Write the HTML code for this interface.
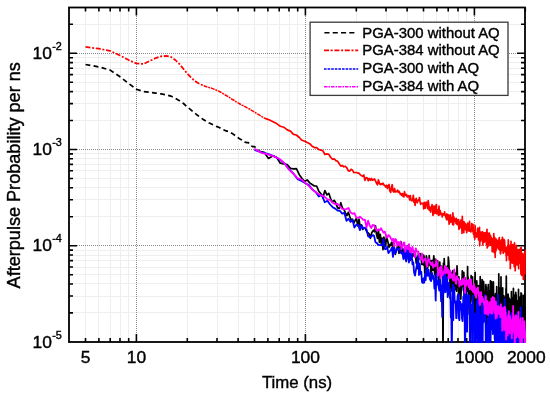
<!DOCTYPE html><html><head><meta charset="utf-8"><title>chart</title><style>html,body{margin:0;padding:0;background:#fff}body{width:550px;height:399px;position:relative;overflow:hidden}</style></head><body><svg width="550" height="399" viewBox="0 0 550 399" style="position:absolute;left:0;top:0">
<defs><clipPath id="c"><rect x="68" y="6.5" width="458" height="336.5"/></clipPath></defs>
<path d="M85.5,7.5V342.0M98.5,7.5V342.0M110.5,7.5V342.0M120.5,7.5V342.0M128.5,7.5V342.0M187.5,7.5V342.0M217.5,7.5V342.0M238.5,7.5V342.0M254.5,7.5V342.0M267.5,7.5V342.0M279.5,7.5V342.0M289.5,7.5V342.0M297.5,7.5V342.0M356.5,7.5V342.0M386.5,7.5V342.0M407.5,7.5V342.0M423.5,7.5V342.0M436.5,7.5V342.0M448.5,7.5V342.0M458.5,7.5V342.0M466.5,7.5V342.0M69.0,312.5H525.0M69.0,296.5H525.0M69.0,283.5H525.0M69.0,274.5H525.0M69.0,267.5H525.0M69.0,260.5H525.0M69.0,255.5H525.0M69.0,250.5H525.0M69.0,216.5H525.0M69.0,199.5H525.0M69.0,187.5H525.0M69.0,178.5H525.0M69.0,170.5H525.0M69.0,164.5H525.0M69.0,158.5H525.0M69.0,153.5H525.0M69.0,120.5H525.0M69.0,103.5H525.0M69.0,91.5H525.0M69.0,82.5H525.0M69.0,74.5H525.0M69.0,68.5H525.0M69.0,62.5H525.0M69.0,57.5H525.0M69.0,24.5H525.0" stroke="#eeeeee" stroke-width="1" fill="none"/>
<path d="M136.5,8V342.0M305.5,8V342.0M474.5,8V342.0M69.0,245.5H525.0M69.0,149.5H525.0M69.0,53.5H525.0" stroke="#8a8a8a" stroke-width="1" stroke-dasharray="1,1" fill="none"/>
<rect x="69.0" y="7.5" width="456.0" height="334.5" fill="none" stroke="#000" stroke-width="1.8"/>
<path d="M85.5,342.0v-4M85.5,7.5v4M98.9,342.0v-4M98.9,7.5v4M110.2,342.0v-4M110.2,7.5v4M120.0,342.0v-4M120.0,7.5v4M128.7,342.0v-4M128.7,7.5v4M136.4,342.0v-8M136.4,7.5v8M187.3,342.0v-4M187.3,7.5v4M217.0,342.0v-4M217.0,7.5v4M238.1,342.0v-4M238.1,7.5v4M254.5,342.0v-4M254.5,7.5v4M267.9,342.0v-4M267.9,7.5v4M279.2,342.0v-4M279.2,7.5v4M289.0,342.0v-4M289.0,7.5v4M297.7,342.0v-4M297.7,7.5v4M305.4,342.0v-8M305.4,7.5v8M356.3,342.0v-4M356.3,7.5v4M386.0,342.0v-4M386.0,7.5v4M407.1,342.0v-4M407.1,7.5v4M423.5,342.0v-4M423.5,7.5v4M436.9,342.0v-4M436.9,7.5v4M448.2,342.0v-4M448.2,7.5v4M458.0,342.0v-4M458.0,7.5v4M466.7,342.0v-4M466.7,7.5v4M474.4,342.0v-8M474.4,7.5v8M525.3,342.0v-4M525.3,7.5v4M69.0,312.9h4M525.0,312.9h-4M69.0,296.0h4M525.0,296.0h-4M69.0,284.0h4M525.0,284.0h-4M69.0,274.7h4M525.0,274.7h-4M69.0,267.0h4M525.0,267.0h-4M69.0,260.6h4M525.0,260.6h-4M69.0,255.0h4M525.0,255.0h-4M69.0,250.1h4M525.0,250.1h-4M69.0,245.7h8M525.0,245.7h-8M69.0,216.7h4M525.0,216.7h-4M69.0,199.8h4M525.0,199.8h-4M69.0,187.8h4M525.0,187.8h-4M69.0,178.5h4M525.0,178.5h-4M69.0,170.8h4M525.0,170.8h-4M69.0,164.4h4M525.0,164.4h-4M69.0,158.8h4M525.0,158.8h-4M69.0,153.9h4M525.0,153.9h-4M69.0,149.5h8M525.0,149.5h-8M69.0,120.5h4M525.0,120.5h-4M69.0,103.6h4M525.0,103.6h-4M69.0,91.6h4M525.0,91.6h-4M69.0,82.3h4M525.0,82.3h-4M69.0,74.6h4M525.0,74.6h-4M69.0,68.2h4M525.0,68.2h-4M69.0,62.6h4M525.0,62.6h-4M69.0,57.7h4M525.0,57.7h-4M69.0,53.3h8M525.0,53.3h-8M69.0,24.3h4M525.0,24.3h-4" stroke="#000" stroke-width="1.6" fill="none"/>
<g clip-path="url(#c)" fill="none" stroke-linejoin="round">
<path d="M85.5,64.5 L98.9,66.9 L110.2,70.1 L120.0,76.8 L128.7,83.5 L136.4,89.2 L143.4,91.5 L149.8,92.3 L155.7,93.1 L161.1,93.9 L166.2,94.8 L170.9,96.1 L175.3,98.2 L179.5,100.7 L183.5,103.5 L187.3,106.9 L190.9,109.9 L194.3,112.7 L197.5,115.3 L200.7,117.7 L203.7,119.7 L206.5,121.5 L209.3,123.0 L212.0,124.3 L214.5,125.6 L217.0,126.6 L219.4,127.5 L221.8,129.0 L224.0,129.9 L226.2,130.9 L228.3,131.5 L230.4,132.6 L232.4,133.6 L234.4,135.0 L236.3,136.4 L238.1,137.7 L240.0,139.1 L241.7,139.9 L243.5,141.4 L245.1,142.1 L246.8,142.6 L248.4,142.7 L250.0,144.8 L251.5,146.0 L253.0,146.7 L254.5,146.6 L259.5,151.4" stroke="#000" stroke-width="1.7" stroke-dasharray="4.9,3.3"/>
<path d="M259.5,151.4 L264.1,152.3 L268.5,158.4 L272.6,155.9 L276.6,157.3 L280.3,163.2 L283.8,163.8 L287.2,164.6 L290.4,168.4 L293.5,168.8 L296.4,168.6 L299.3,174.7 L302.0,178.5 L304.7,181.3 L307.2,179.9 L309.7,182.9 L312.1,184.5 L314.4,186.0 L316.6,186.0 L318.8,191.2 L320.9,193.7 L322.9,197.6 L324.9,190.6 L326.9,194.9 L328.8,193.3 L330.6,198.6 L332.4,202.0 L334.2,200.3 L335.9,203.1 L337.6,207.9 L339.2,208.4 L340.8,202.7 L342.4,207.9 L343.9,209.3 L345.4,212.8 L346.9,215.6 L348.3,212.2 L349.8,216.6 L351.1,220.0 L352.5,219.2 L353.8,223.0 L355.2,220.3 L356.5,218.3 L357.7,225.9 L359.0,219.1 L360.2,227.1 L361.4,225.0 L362.6,229.5 L363.8,228.0 L364.9,227.7 L366.1,230.3 L367.2,232.2 L368.3,232.9 L369.3,234.2 L370.4,238.3 L371.5,233.4 L372.5,231.4 L373.5,230.2 L374.5,231.8 L375.5,225.9 L376.5,234.5 L377.5,238.4 L378.4,229.8 L379.4,242.4 L380.3,234.4 L381.2,243.3 L382.1,238.1 L383.0,249.6 L383.9,237.0 L384.8,241.9 L385.7,246.2 L386.5,235.6 L387.4,239.6 L388.2,243.2 L389.0,247.3 L389.8,244.6 L390.7,245.7 L391.5,242.3 L392.2,242.5 L393.0,249.5 L393.8,249.4 L394.6,249.8 L395.3,254.3 L396.1,250.9 L396.8,248.9 L397.6,245.8 L398.3,243.6 L399.0,253.5 L399.7,247.4 L400.4,252.3 L401.1,241.8 L401.8,250.9 L402.5,248.6 L403.2,255.7 L403.9,255.3 L404.5,250.6 L405.2,253.6 L405.9,250.2 L406.5,260.2 L407.1,249.2 L407.8,256.9 L408.4,245.1 L409.0,254.2 L409.7,248.0 L410.3,260.5 L410.9,251.3 L411.5,258.1 L412.1,256.2 L412.7,253.9 L413.3,255.9 L413.9,253.3 L414.5,251.3 L415.1,252.0 L415.6,255.9 L416.2,263.1 L416.8,260.2 L417.3,257.3 L417.9,268.8 L418.4,253.4 L419.0,258.6 L419.5,258.9 L420.1,253.5 L420.6,255.1 L421.1,257.5 L421.7,264.5 L422.2,257.7 L422.7,257.9 L423.2,264.9 L423.7,255.1 L424.3,257.9 L424.8,273.1 L425.3,260.5 L425.8,269.0 L426.3,255.9 L426.8,257.8 L427.2,269.0 L427.7,267.9 L428.2,262.3 L428.7,264.6 L429.2,255.6 L429.6,259.7 L430.1,265.7 L430.6,261.1 L431.1,278.7 L431.5,263.1 L432.0,260.3 L432.4,266.6 L432.9,270.3 L433.3,262.7 L433.8,255.8 L434.2,265.3 L434.7,274.4 L435.1,259.0 L435.5,281.2 L436.0,264.6 L436.4,271.8 L436.8,262.6 L437.3,274.3 L437.7,260.9 L438.1,267.0 L438.5,282.3 L439.0,285.0 L439.4,271.8 L439.8,262.0 L440.2,269.3 L440.6,269.9 L441.0,272.2 L441.4,266.0 L441.8,268.5 L442.2,269.3 L442.6,278.9 L443.0,362.0 L443.4,263.2 L443.8,282.4 L444.2,258.5 L444.6,267.6 L445.0,276.3 L445.3,289.5 L445.7,268.5 L446.1,269.3 L446.5,278.0 L446.8,289.4 L447.2,266.2 L447.6,278.6 L448.0,277.9 L448.3,257.1 L448.7,260.9 L449.1,268.1 L449.4,278.6 L449.8,270.4 L450.1,298.2 L450.5,274.7 L450.8,282.1 L451.2,287.4 L451.6,290.9 L451.9,272.3 L452.3,275.7 L452.6,275.4 L452.9,270.5 L453.3,284.5 L453.6,288.7 L454.0,295.2 L454.3,280.4 L454.6,272.0 L455.0,279.2 L455.3,273.2 L455.6,289.6 L456.0,282.7 L456.3,285.8 L456.6,291.2 L457.0,265.8 L457.3,272.7 L457.6,286.8 L457.9,287.1 L458.3,280.6 L458.6,295.2 L458.9,276.9 L459.2,294.0 L459.5,284.4 L459.8,291.4 L460.1,285.9 L460.5,295.7 L460.8,299.1 L461.1,291.9 L461.4,289.0 L461.7,285.3 L462.0,282.1 L462.3,270.9 L462.6,276.3 L462.9,285.8 L463.2,277.4 L463.5,290.8 L463.8,272.3 L464.1,279.4 L464.4,299.8 L464.7,278.1 L465.0,277.8 L465.3,325.2 L465.6,293.3 L465.8,290.4 L466.1,310.6 L466.4,298.0 L466.7,296.7 L467.0,281.7 L467.3,283.8 L467.6,266.6 L467.8,291.1 L468.1,277.1 L468.4,286.6 L468.7,285.0 L469.0,301.6 L469.2,314.1 L469.5,296.8 L469.8,281.2 L470.1,362.0 L470.3,282.9 L470.6,284.1 L470.9,298.9 L471.1,275.7 L471.4,277.3 L471.7,295.6 L471.9,290.3 L472.2,302.1 L472.5,276.9 L472.7,286.1 L473.0,291.5 L473.3,286.4 L473.5,286.2 L473.8,295.6 L474.0,307.3 L474.3,308.2 L474.5,316.6 L474.8,286.7 L475.1,272.4 L475.3,316.4 L475.6,290.4 L475.8,287.7 L476.1,304.7 L476.3,290.0 L476.6,306.8 L476.8,280.9 L477.1,299.9 L477.3,291.7 L477.6,285.9 L477.8,298.1 L478.1,320.6 L478.3,299.7 L478.5,285.6 L478.8,294.5 L479.0,291.1 L479.3,308.3 L479.5,292.3 L479.7,286.4 L480.0,293.7 L480.2,276.6 L480.5,296.8 L480.7,308.5 L480.9,319.2 L481.2,283.1 L481.4,295.4 L481.6,284.5 L481.9,290.0 L482.1,279.5 L482.3,282.6 L482.6,300.0 L482.8,292.3 L483.0,284.4 L483.2,313.4 L483.5,281.4 L483.7,283.5 L483.9,285.7 L484.1,298.5 L484.4,292.7 L484.6,312.2 L484.8,295.6 L485.0,304.1 L485.3,295.5 L485.5,303.0 L485.7,293.4 L485.9,284.6 L486.1,316.7 L486.4,287.1 L486.6,332.9 L486.8,338.3 L487.0,298.8 L487.2,297.3 L487.4,292.4 L487.7,324.9 L487.9,298.4 L488.1,296.2 L488.3,284.7 L488.5,299.2 L488.7,292.0 L488.9,312.3 L489.1,300.6 L489.4,304.2 L489.6,290.5 L489.8,313.0 L490.0,310.5 L490.2,292.0 L490.4,280.9 L490.6,294.3 L490.8,295.3 L491.0,303.6 L491.2,287.3 L491.4,292.9 L491.6,281.7 L491.8,295.4 L492.0,313.6 L492.2,307.5 L492.4,314.5 L492.6,319.7 L492.8,286.2 L493.0,290.7 L493.2,319.9 L493.4,281.9 L493.6,297.1 L493.8,314.8 L494.0,295.6 L494.2,301.3 L494.4,311.9 L494.6,339.0 L494.8,300.2 L495.0,297.1 L495.2,362.0 L495.4,294.2 L495.6,293.6 L495.8,307.7 L496.0,299.7 L496.2,305.1 L496.3,314.1 L496.5,306.4 L496.7,286.7 L496.9,327.2 L497.1,298.6 L497.3,299.4 L497.5,312.5 L497.7,308.2 L497.9,326.6 L498.0,315.3 L498.2,302.0 L498.4,298.1 L498.6,316.5 L498.8,273.9 L499.0,311.0 L499.1,300.9 L499.3,305.9 L499.5,308.5 L499.7,288.2 L499.9,310.0 L500.1,288.0 L500.2,289.9 L500.4,320.5 L500.6,291.1 L500.8,313.3 L501.0,276.8 L501.1,309.2 L501.3,319.0 L501.5,344.9 L501.7,326.9 L501.8,312.7 L502.0,320.6 L502.2,325.8 L502.4,315.0 L502.6,307.2 L502.7,287.9 L502.9,339.2 L503.1,312.9 L503.2,320.5 L503.4,334.0 L503.6,327.6 L503.8,319.8 L503.9,295.9 L504.1,307.7 L504.3,313.3 L504.5,297.3 L504.6,301.4 L504.8,308.5 L505.0,300.2 L505.1,319.2 L505.3,297.5 L505.5,299.4 L505.6,312.0 L505.8,328.1 L506.0,288.4 L506.1,304.6 L506.3,276.2 L506.5,316.6 L506.6,295.4 L506.8,313.0 L507.0,302.8 L507.1,295.8 L507.3,319.9 L507.5,308.0 L507.6,304.4 L507.8,305.1 L507.9,298.9 L508.1,294.1 L508.3,296.3 L508.4,303.3 L508.6,312.5 L508.8,328.1 L508.9,319.6 L509.1,315.8 L509.2,298.4 L509.4,313.2 L509.6,331.5 L509.7,299.3 L509.9,321.6 L510.0,320.9 L510.2,311.3 L510.3,301.5 L510.5,362.0 L510.7,329.2 L510.8,305.6 L511.0,314.0 L511.1,323.6 L511.3,317.3 L511.4,291.7 L511.6,315.9 L511.8,299.1 L511.9,298.2 L512.1,316.1 L512.2,302.6 L512.4,316.3 L512.5,319.3 L512.7,330.8 L512.8,297.6 L513.0,315.7 L513.1,318.6 L513.3,331.3 L513.4,288.3 L513.6,299.5 L513.7,311.6 L513.9,321.8 L514.0,343.8 L514.2,305.5 L514.3,305.6 L514.5,340.2 L514.6,295.2 L514.8,299.6 L514.9,328.3 L515.1,319.7 L515.2,317.4 L515.4,307.9 L515.5,312.7 L515.7,349.4 L515.8,292.3 L516.0,306.0 L516.1,294.6 L516.2,294.8 L516.4,314.2 L516.5,305.9 L516.7,300.8 L516.8,300.5 L517.0,313.7 L517.1,322.2 L517.3,310.7 L517.4,326.2 L517.5,321.2 L517.7,362.0 L517.8,310.2 L518.0,332.0 L518.1,321.5 L518.3,312.6 L518.4,307.1 L518.5,289.3 L518.7,308.8 L518.8,344.1 L519.0,310.0 L519.1,322.9 L519.2,306.3 L519.4,324.9 L519.5,325.5 L519.7,321.5 L519.8,362.0 L519.9,362.0 L520.1,325.0 L520.2,312.9 L520.3,296.9 L520.5,317.8 L520.6,319.3 L520.8,304.5 L520.9,305.1 L521.0,292.9 L521.2,304.6 L521.3,313.5 L521.4,295.8 L521.6,293.8 L521.7,362.0 L521.8,311.0 L522.0,358.0 L522.1,320.0 L522.2,331.4 L522.4,317.4 L522.5,322.5 L522.6,316.7 L522.8,315.6 L522.9,306.6 L523.0,310.4 L523.2,324.6 L523.3,343.8 L523.4,297.6 L523.6,295.7 L523.7,322.6 L523.8,306.0 L524.0,353.3 L524.1,355.0 L524.2,362.0 L524.4,295.4 L524.5,337.3 L524.6,331.7 L524.7,294.2 L524.9,362.0 L525.0,305.4 L525.1,307.6 L525.3,318.7" stroke="#000" stroke-width="1.7"/>
<path d="M85.5,46.9 L98.9,48.7 L110.2,50.9 L120.0,55.4 L128.7,60.1 L136.4,63.5 L143.4,64.0 L149.8,61.0 L155.7,58.1 L161.1,56.3 L166.2,55.8 L170.9,56.9 L175.3,60.0 L179.5,64.1 L183.5,69.0 L187.3,73.6 L190.9,77.3 L194.3,80.5 L197.5,82.7 L200.7,84.3 L203.7,85.7" stroke="#f00" stroke-width="1.7" stroke-dasharray="5,1.7,2,1.7"/>
<path d="M203.7,85.7 L206.5,86.8 L209.3,87.6 L212.0,88.4 L214.5,89.4 L217.0,90.4 L219.4,91.5 L221.8,92.8 L224.0,94.2 L226.2,95.5 L228.3,96.7 L230.4,98.2 L232.4,99.5 L234.4,100.5 L236.3,101.8 L238.1,102.9 L240.0,104.0 L241.7,105.1 L243.5,105.7 L245.1,106.6 L246.8,107.7 L248.4,108.5 L250.0,109.2 L251.5,110.4 L253.0,111.2 L254.5,112.1 L259.5,115.2 L264.1,118.0" stroke="#f00" stroke-width="1.5" stroke-dasharray="4,0.8,2,0.8"/>
<path d="M264.1,118.0 L268.5,119.6 L272.6,121.5 L276.6,123.6 L280.3,126.2 L283.8,127.2 L287.2,129.9 L290.4,131.1 L293.5,134.4 L296.4,135.0 L299.3,137.5 L302.0,140.3 L304.7,141.2 L307.2,142.5 L309.7,143.7 L312.1,146.2 L314.4,147.6 L316.6,147.7 L318.8,149.5 L320.9,150.1 L322.9,150.8 L324.9,154.5 L326.9,153.9 L328.8,154.3 L330.6,157.2 L332.4,159.2 L334.2,158.8 L335.9,160.6 L337.6,161.2 L339.2,163.7 L340.8,166.1 L342.4,165.5 L343.9,166.8 L345.4,166.3 L346.9,167.8 L348.3,170.9 L349.8,171.1 L351.1,169.3 L352.5,170.2 L353.8,172.6 L355.2,172.5 L356.5,172.5 L357.7,173.1 L359.0,173.2 L360.2,174.6 L361.4,175.6 L362.6,176.4 L363.8,175.0 L364.9,180.4 L366.1,177.7 L367.2,177.9 L368.3,180.6 L369.3,178.4 L370.4,180.3 L371.5,178.4 L372.5,180.3 L373.5,179.5 L374.5,179.0 L375.5,180.8 L376.5,183.2 L377.5,184.8 L378.4,179.8 L379.4,183.2 L380.3,184.6 L381.2,183.6 L382.1,184.5 L383.0,183.1 L383.9,184.9 L384.8,185.4 L385.7,187.1 L386.5,185.3 L387.4,188.5 L388.2,185.7 L389.0,184.5 L389.8,190.6 L390.7,192.4 L391.5,187.2 L392.2,184.7 L393.0,191.1 L393.8,192.0 L394.6,188.7 L395.3,191.9 L396.1,191.5 L396.8,191.6 L397.6,190.1 L398.3,192.4 L399.0,191.3 L399.7,192.6 L400.4,194.4 L401.1,193.6 L401.8,195.4 L402.5,193.6 L403.2,196.5 L403.9,196.8 L404.5,191.6 L405.2,195.1 L405.9,195.4 L406.5,194.5 L407.1,196.9 L407.8,196.8 L408.4,195.7 L409.0,196.3 L409.7,200.0 L410.3,195.7 L410.9,199.3 L411.5,200.7 L412.1,200.7 L412.7,199.7 L413.3,195.4 L413.9,202.3 L414.5,199.3 L415.1,205.5 L415.6,200.3 L416.2,198.4 L416.8,201.4 L417.3,202.7 L417.9,200.8 L418.4,199.9 L419.0,200.3 L419.5,197.5 L420.1,201.9 L420.6,204.3 L421.1,203.3 L421.7,203.4 L422.2,203.2 L422.7,203.8 L423.2,203.5 L423.7,208.9 L424.3,202.3 L424.8,206.3 L425.3,208.2 L425.8,203.5 L426.3,202.0 L426.8,204.3 L427.2,205.4 L427.7,208.7 L428.2,200.7 L428.7,204.2 L429.2,210.1 L429.6,209.2 L430.1,207.0 L430.6,212.1 L431.1,207.2 L431.5,209.2 L432.0,204.7 L432.4,205.6 L432.9,215.4 L433.3,208.6 L433.8,214.0 L434.2,206.0 L434.7,208.9 L435.1,208.0 L435.5,213.1 L436.0,204.9 L436.4,204.6 L436.8,213.8 L437.3,209.5 L437.7,212.9 L438.1,211.1 L438.5,215.3 L439.0,206.1 L439.4,214.8 L439.8,212.8 L440.2,210.5 L440.6,214.3 L441.0,213.2 L441.4,214.5 L441.8,213.3 L442.2,217.0 L442.6,214.7 L443.0,214.1 L443.4,214.8 L443.8,213.7 L444.2,215.0 L444.6,211.9 L445.0,215.5 L445.3,215.1 L445.7,217.1 L446.1,216.8 L446.5,219.7 L446.8,213.8 L447.2,219.7 L447.6,218.4 L448.0,214.9 L448.3,214.9 L448.7,217.8 L449.1,224.1 L449.4,215.4 L449.8,216.2 L450.1,222.4 L450.5,214.9 L450.8,220.1 L451.2,221.9 L451.6,217.7 L451.9,218.8 L452.3,217.7 L452.6,224.7 L452.9,212.9 L453.3,221.2 L453.6,225.0 L454.0,217.2 L454.3,220.8 L454.6,218.6 L455.0,221.2 L455.3,220.3 L455.6,219.4 L456.0,223.3 L456.3,218.3 L456.6,222.6 L457.0,224.4 L457.3,221.0 L457.6,219.8 L457.9,222.5 L458.3,225.1 L458.6,219.7 L458.9,229.3 L459.2,226.4 L459.5,222.4 L459.8,228.2 L460.1,222.8 L460.5,223.3 L460.8,220.0 L461.1,227.1 L461.4,226.1 L461.7,222.5 L462.0,233.4 L462.3,216.4 L462.6,227.1 L462.9,227.4 L463.2,221.4 L463.5,225.0 L463.8,232.6 L464.1,222.7 L464.4,222.1 L464.7,227.3 L465.0,226.8 L465.3,223.9 L465.6,229.8 L465.8,224.4 L466.1,225.5 L466.4,229.3 L466.7,232.6 L467.0,227.7 L467.3,230.6 L467.6,223.2 L467.8,226.7 L468.1,224.3 L468.4,227.0 L468.7,226.7 L469.0,231.2 L469.2,225.4 L469.5,221.4 L469.8,229.7 L470.1,231.1 L470.3,229.3 L470.6,230.9 L470.9,232.0 L471.1,228.5 L471.4,230.5 L471.7,223.7 L471.9,229.6 L472.2,228.4 L472.5,226.0 L472.7,231.3 L473.0,224.4 L473.3,233.1 L473.5,234.1 L473.8,232.2 L474.0,231.3 L474.3,237.5 L474.5,231.2 L474.8,239.2 L475.1,225.7 L475.3,231.9 L475.6,234.6 L475.8,236.0 L476.1,233.7 L476.3,233.1 L476.6,237.2 L476.8,236.7 L477.1,233.4 L477.3,235.1 L477.6,228.9 L477.8,228.2 L478.1,233.1 L478.3,231.2 L478.5,240.0 L478.8,230.8 L479.0,233.9 L479.3,231.7 L479.5,227.3 L479.7,245.7 L480.0,233.2 L480.2,239.9 L480.5,232.0 L480.7,241.3 L480.9,237.3 L481.2,234.1 L481.4,232.4 L481.6,235.0 L481.9,239.4 L482.1,238.3 L482.3,231.8 L482.6,235.9 L482.8,244.9 L483.0,232.4 L483.2,234.4 L483.5,232.5 L483.7,238.3 L483.9,233.0 L484.1,242.3 L484.4,234.4 L484.6,239.6 L484.8,234.2 L485.0,232.9 L485.3,241.3 L485.5,238.0 L485.7,237.7 L485.9,232.6 L486.1,234.8 L486.4,244.7 L486.6,236.2 L486.8,235.0 L487.0,229.3 L487.2,248.0 L487.4,241.7 L487.7,232.9 L487.9,246.5 L488.1,245.8 L488.3,237.0 L488.5,234.8 L488.7,243.2 L488.9,237.2 L489.1,239.4 L489.4,233.1 L489.6,240.3 L489.8,235.7 L490.0,245.4 L490.2,241.6 L490.4,241.3 L490.6,235.5 L490.8,238.2 L491.0,245.2 L491.2,237.9 L491.4,237.6 L491.6,242.1 L491.8,243.0 L492.0,242.8 L492.2,251.7 L492.4,241.1 L492.6,240.9 L492.8,247.0 L493.0,238.7 L493.2,250.4 L493.4,245.6 L493.6,245.3 L493.8,233.6 L494.0,252.4 L494.2,240.3 L494.4,238.5 L494.6,241.4 L494.8,237.6 L495.0,249.3 L495.2,257.4 L495.4,239.9 L495.6,250.9 L495.8,245.8 L496.0,251.0 L496.2,239.0 L496.3,240.0 L496.5,248.6 L496.7,240.0 L496.9,244.1 L497.1,245.6 L497.3,244.7 L497.5,246.2 L497.7,242.0 L497.9,243.7 L498.0,247.4 L498.2,240.4 L498.4,249.1 L498.6,244.2 L498.8,243.6 L499.0,238.5 L499.1,249.0 L499.3,237.5 L499.5,245.3 L499.7,247.5 L499.9,250.4 L500.1,243.5 L500.2,246.5 L500.4,253.5 L500.6,253.8 L500.8,250.3 L501.0,251.1 L501.1,241.5 L501.3,240.2 L501.5,242.8 L501.7,245.6 L501.8,250.2 L502.0,247.5 L502.2,243.1 L502.4,237.3 L502.6,243.2 L502.7,249.8 L502.9,248.1 L503.1,251.3 L503.2,253.3 L503.4,249.7 L503.6,247.6 L503.8,239.4 L503.9,248.6 L504.1,241.8 L504.3,239.9 L504.5,248.8 L504.6,240.9 L504.8,245.4 L505.0,252.0 L505.1,248.1 L505.3,249.6 L505.5,251.2 L505.6,251.1 L505.8,249.2 L506.0,247.6 L506.1,255.8 L506.3,250.4 L506.5,260.6 L506.6,249.0 L506.8,247.0 L507.0,249.7 L507.1,249.1 L507.3,247.5 L507.5,255.2 L507.6,252.5 L507.8,248.2 L507.9,245.6 L508.1,249.0 L508.3,239.9 L508.4,252.1 L508.6,246.0 L508.8,244.7 L508.9,252.6 L509.1,257.2 L509.2,259.9 L509.4,251.1 L509.6,245.9 L509.7,250.7 L509.9,251.3 L510.0,254.9 L510.2,249.2 L510.3,268.5 L510.5,251.3 L510.7,252.7 L510.8,262.4 L511.0,241.3 L511.1,262.8 L511.3,260.5 L511.4,261.5 L511.6,247.0 L511.8,259.4 L511.9,249.6 L512.1,250.1 L512.2,252.1 L512.4,263.0 L512.5,257.9 L512.7,244.6 L512.8,263.1 L513.0,259.8 L513.1,255.3 L513.3,249.5 L513.4,252.9 L513.6,250.0 L513.7,262.0 L513.9,249.1 L514.0,251.3 L514.2,266.6 L514.3,246.1 L514.5,242.9 L514.6,260.4 L514.8,254.8 L514.9,247.1 L515.1,266.2 L515.2,270.8 L515.4,264.9 L515.5,259.5 L515.7,259.6 L515.8,252.0 L516.0,254.2 L516.1,265.0 L516.2,252.5 L516.4,245.4 L516.5,249.0 L516.7,250.3 L516.8,256.2 L517.0,250.4 L517.1,263.4 L517.3,251.9 L517.4,257.3 L517.5,249.9 L517.7,253.9 L517.8,264.9 L518.0,256.2 L518.1,249.7 L518.3,265.5 L518.4,261.2 L518.5,262.8 L518.7,268.8 L518.8,251.5 L519.0,249.6 L519.1,252.6 L519.2,256.2 L519.4,258.2 L519.5,256.3 L519.7,263.2 L519.8,252.4 L519.9,251.6 L520.1,252.3 L520.2,262.1 L520.3,257.8 L520.5,259.6 L520.6,247.8 L520.8,257.4 L520.9,274.0 L521.0,256.1 L521.2,247.6 L521.3,254.5 L521.4,253.4 L521.6,258.8 L521.7,275.5 L521.8,274.0 L522.0,268.9 L522.1,260.3 L522.2,257.4 L522.4,255.0 L522.5,262.0 L522.6,253.5 L522.8,261.7 L522.9,265.0 L523.0,254.3 L523.2,266.9 L523.3,279.2 L523.4,268.3 L523.6,259.5 L523.7,279.5 L523.8,262.9 L524.0,262.8 L524.1,272.0 L524.2,272.6 L524.4,264.0 L524.5,264.8 L524.6,252.7 L524.7,258.3 L524.9,274.0 L525.0,267.6 L525.1,256.3 L525.3,249.5" stroke="#f00" stroke-width="1.7"/>
<path d="M254.5,149.8 L261.5,152.4 L267.9,153.9 L273.8,156.0 L279.2,159.3 L284.3,163.1 L289.0,169.2 L293.5,173.7 L297.7,179.1 L301.6,181.0 L305.4,183.3 L309.0,185.1 L312.4,189.5 L315.7,191.9 L318.8,196.5 L321.8,194.8 L324.7,202.3 L327.4,200.7 L330.1,204.5 L332.7,207.2 L335.2,208.6 L337.6,210.5 L339.9,210.8 L342.2,213.7 L344.3,212.8 L346.5,220.8 L348.5,218.7 L350.6,221.9 L352.5,219.8 L354.4,227.6 L356.3,224.7 L358.1,224.6 L359.9,230.2 L361.6,225.2 L363.3,228.5 L364.9,227.7 L366.5,229.2 L368.1,236.2 L369.7,237.1 L371.2,236.7 L372.7,235.1 L374.1,235.9 L375.5,242.3 L376.9,243.1 L378.3,244.9 L379.6,245.2 L381.0,245.0 L382.3,245.6 L383.5,239.1 L384.8,249.0 L386.0,249.0 L387.2,246.9 L388.4,253.2 L389.6,251.3 L390.8,250.2 L391.9,247.6 L393.0,257.0 L394.1,245.9 L395.2,253.2 L396.3,251.2 L397.3,248.7 L398.4,249.7 L399.4,248.3 L400.4,252.3 L401.4,253.5 L402.4,252.2 L403.4,259.0 L404.3,248.7 L405.3,258.5 L406.2,261.5 L407.1,246.0 L408.1,256.2 L409.0,262.5 L409.9,248.0 L410.7,259.2 L411.6,253.3 L412.5,264.4 L413.3,262.3 L414.1,272.6 L415.0,275.6 L415.8,270.6 L416.6,266.3 L417.4,262.6 L418.2,255.8 L419.0,275.0 L419.8,263.9 L420.5,273.9 L421.3,271.9 L422.0,282.1 L422.8,283.0 L423.5,278.4 L424.3,282.5 L425.0,274.4 L425.7,280.2 L426.4,267.6 L427.1,275.2 L427.8,275.7 L428.5,269.7 L429.2,274.4 L429.9,279.2 L430.5,280.2 L431.2,281.1 L431.8,272.6 L432.5,275.2 L433.1,278.9 L433.8,276.0 L434.4,288.5 L435.0,279.3 L435.7,300.5 L436.3,273.7 L436.9,284.7 L437.5,284.4 L438.1,281.0 L438.7,287.4 L439.3,290.6 L439.9,277.3 L440.5,287.7 L441.1,301.2 L441.6,285.3 L442.2,317.1 L442.8,275.1 L443.3,293.7 L443.9,291.5 L444.5,271.3 L445.0,272.3 L445.6,292.1 L446.1,286.8 L446.6,282.5 L447.2,277.5 L447.7,297.2 L448.2,294.2 L448.7,282.8 L449.3,293.4 L449.8,288.3 L450.3,290.3 L450.8,317.5 L451.3,312.5 L451.8,362.0 L452.3,303.4 L452.8,284.6 L453.3,320.0 L453.8,286.3 L454.3,289.1 L454.7,302.6 L455.2,302.3 L455.7,301.4 L456.2,318.1 L456.6,307.9 L457.1,304.7 L457.6,296.1 L458.0,294.4 L458.5,318.4 L458.9,294.7 L459.4,320.2 L459.8,309.3 L460.3,301.6 L460.7,307.8 L461.2,309.9 L461.6,304.2 L462.0,318.6 L462.5,321.1 L462.9,313.0 L463.3,296.7 L463.8,312.0 L464.2,287.4 L464.6,307.7 L465.0,362.0 L465.4,319.9 L465.8,290.8 L466.3,312.5 L466.7,321.1 L467.1,331.7 L467.5,295.4 L467.9,299.4 L468.3,303.9 L468.7,307.7 L469.1,295.1 L469.5,302.7 L469.9,346.3 L470.2,303.9 L470.6,313.1 L471.0,318.3 L471.4,304.6 L471.8,316.4 L472.2,362.0 L472.5,295.6 L472.9,301.9 L473.3,320.3 L473.7,325.9 L474.0,314.4 L474.4,355.0 L474.8,313.6 L475.1,323.9 L475.5,326.9 L475.9,342.7 L476.2,335.6 L476.6,303.1 L476.9,300.5 L477.3,312.0 L477.6,321.9 L478.0,343.2 L478.3,309.4 L478.7,298.2 L479.0,362.0 L479.4,303.7 L479.7,362.0 L480.0,329.9 L480.4,315.8 L480.7,362.0 L481.1,362.0 L481.4,319.9 L481.7,309.0 L482.1,334.8 L482.4,303.2 L482.7,344.2 L483.0,298.7 L483.4,322.4 L483.7,320.4 L484.0,314.1 L484.3,319.2 L484.7,298.5 L485.0,294.9 L485.3,315.9 L485.6,329.7 L485.9,362.0 L486.2,346.3 L486.5,326.5 L486.9,329.1 L487.2,328.0 L487.5,327.2 L487.8,318.1 L488.1,362.0 L488.4,358.8 L488.7,309.1 L489.0,313.3 L489.3,341.9 L489.6,307.3 L489.9,346.7 L490.2,334.8 L490.5,362.0 L490.8,314.1 L491.1,329.7 L491.4,311.1 L491.7,316.7 L491.9,327.9 L492.2,326.7 L492.5,309.9 L492.8,334.1 L493.1,334.0 L493.4,329.2 L493.7,315.9 L493.9,314.3 L494.2,301.7 L494.5,333.0 L494.8,309.8 L495.1,349.2 L495.3,319.8 L495.6,328.8 L495.9,304.3 L496.2,320.0 L496.4,343.3 L496.7,320.7 L497.0,325.0 L497.2,340.1 L497.5,339.6 L497.8,362.0 L498.0,294.6 L498.3,329.9 L498.6,315.3 L498.8,362.0 L499.1,362.0 L499.4,337.1 L499.6,337.2 L499.9,318.5 L500.1,362.0 L500.4,323.2 L500.7,308.9 L500.9,362.0 L501.2,317.5 L501.4,362.0 L501.7,327.5 L501.9,327.3 L502.2,306.8 L502.4,355.7 L502.7,331.7 L502.9,316.3 L503.2,362.0 L503.4,336.1 L503.7,362.0 L503.9,357.4 L504.2,322.7 L504.4,322.5 L504.6,298.9 L504.9,312.6 L505.1,313.9 L505.4,341.3 L505.6,345.2 L505.9,334.3 L506.1,362.0 L506.3,309.6 L506.6,358.5 L506.8,362.0 L507.0,351.3 L507.3,321.2 L507.5,315.7 L507.7,349.3 L508.0,329.4 L508.2,340.6 L508.4,362.0 L508.7,335.5 L508.9,339.0 L509.1,362.0 L509.4,318.8 L509.6,362.0 L509.8,334.8 L510.0,362.0 L510.3,362.0 L510.5,362.0 L510.7,326.0 L510.9,362.0 L511.2,346.4 L511.4,313.5 L511.6,362.0 L511.8,342.5 L512.0,327.5 L512.3,360.7 L512.5,331.4 L512.7,362.0 L512.9,327.3 L513.1,341.0 L513.3,362.0 L513.6,316.4 L513.8,345.6 L514.0,351.2 L514.2,362.0 L514.4,358.1 L514.6,346.1 L514.8,339.3 L515.1,321.6 L515.3,362.0 L515.5,354.6 L515.7,320.4 L515.9,339.7 L516.1,334.7 L516.3,315.1 L516.5,336.5 L516.7,333.8 L516.9,346.1 L517.1,313.2 L517.3,323.5 L517.5,362.0 L517.7,332.7 L517.9,362.0 L518.2,323.2 L518.4,330.6 L518.6,350.6 L518.8,359.0 L519.0,362.0 L519.2,329.3 L519.4,349.9 L519.6,356.4 L519.8,330.4 L519.9,362.0 L520.1,362.0 L520.3,362.0 L520.5,362.0 L520.7,307.2 L520.9,353.5 L521.1,359.1 L521.3,328.0 L521.5,362.0 L521.7,349.0 L521.9,347.9 L522.1,362.0 L522.3,337.2 L522.5,362.0 L522.7,348.9 L522.8,329.3 L523.0,362.0 L523.2,362.0 L523.4,355.7 L523.6,351.8 L523.8,362.0 L524.0,342.3 L524.2,345.7 L524.4,362.0 L524.5,356.8 L524.7,362.0 L524.9,362.0 L525.1,362.0 L525.3,330.2" stroke="#00f" stroke-width="1.8"/>
<path d="M254.5,148.8 L261.5,152.9 L267.9,154.3 L273.8,156.4 L279.2,158.8 L284.3,163.2 L289.0,169.6 L293.5,173.9 L297.7,178.4 L301.6,179.5 L305.4,182.9 L309.0,186.2 L312.4,189.5 L315.7,192.1 L318.8,194.3 L321.8,195.7 L324.7,196.9 L327.4,199.4 L330.1,199.8 L332.7,202.8 L335.2,204.3 L337.6,203.8 L339.9,206.4 L342.2,208.9 L344.3,209.3 L346.5,209.1 L348.5,207.9 L350.6,212.5 L352.5,213.8 L354.4,213.1 L356.3,217.6 L358.1,217.7 L359.9,216.7 L361.6,218.1 L363.3,219.8 L364.9,219.6 L366.5,227.5 L368.1,220.7 L369.7,225.5 L371.2,228.0 L372.7,225.0 L374.1,225.1 L375.5,228.4 L376.9,230.8 L378.3,229.3 L379.6,230.5 L381.0,228.3 L382.3,230.6 L383.5,232.7 L384.8,231.6 L386.0,235.3 L387.2,237.8 L388.4,235.1 L389.6,235.8 L390.8,238.4 L391.9,240.4 L393.0,238.7 L394.1,246.3 L395.2,238.8 L396.3,239.9 L397.3,245.9 L398.4,242.0 L399.4,245.2 L400.4,241.4 L401.4,249.3 L402.4,246.7 L403.4,243.0 L404.3,242.4 L405.3,251.9 L406.2,247.8 L407.1,246.1 L408.1,249.2 L409.0,244.1 L409.9,252.1 L410.7,248.4 L411.6,252.9 L412.5,246.8 L413.3,251.2 L414.1,252.7 L415.0,257.4 L415.8,248.3 L416.6,251.3 L417.4,251.9 L418.2,251.4 L419.0,254.1 L419.8,257.6 L420.5,258.7 L421.3,259.3 L422.0,253.5 L422.8,262.5 L423.5,260.3 L424.3,260.0 L425.0,258.8 L425.7,258.3 L426.4,264.5 L427.1,266.6 L427.8,261.5 L428.5,258.3 L429.2,260.1 L429.9,262.2 L430.5,264.3 L431.2,262.9 L431.8,265.0 L432.5,262.1 L433.1,267.7 L433.8,265.1 L434.4,266.3 L435.0,264.6 L435.7,266.0 L436.3,259.6 L436.9,262.9 L437.5,263.3 L438.1,275.7 L438.7,269.8 L439.3,271.2 L439.9,267.7 L440.5,278.2 L441.1,266.4 L441.6,267.0 L442.2,275.5 L442.8,274.6 L443.3,274.3 L443.9,271.6 L444.5,270.0 L445.0,265.9 L445.6,273.4 L446.1,270.4 L446.6,272.8 L447.2,267.9 L447.7,271.4 L448.2,269.6 L448.7,278.5 L449.3,275.5 L449.8,278.1 L450.3,270.3 L450.8,273.3 L451.3,277.0 L451.8,277.8 L452.3,274.7 L452.8,279.4 L453.3,280.6 L453.8,275.6 L454.3,269.4 L454.7,278.8 L455.2,280.2 L455.7,283.0 L456.2,283.9 L456.6,277.0 L457.1,276.1 L457.6,279.4 L458.0,278.5 L458.5,279.5 L458.9,279.7 L459.4,286.7 L459.8,282.5 L460.3,280.6 L460.7,284.3 L461.2,283.3 L461.6,285.0 L462.0,283.3 L462.5,279.0 L462.9,284.1 L463.3,283.3 L463.8,279.9 L464.2,280.8 L464.6,277.3 L465.0,292.9 L465.4,280.7 L465.8,286.2 L466.3,283.9 L466.7,281.5 L467.1,280.9 L467.5,281.3 L467.9,284.9 L468.3,279.8 L468.7,287.2 L469.1,286.9 L469.5,283.5 L469.9,289.2 L470.2,279.2 L470.6,283.5 L471.0,279.7 L471.4,288.2 L471.8,290.0 L472.2,288.0 L472.5,286.1 L472.9,291.8 L473.3,288.1 L473.7,290.0 L474.0,284.0 L474.4,293.5 L474.8,286.8 L475.1,294.2 L475.5,296.0 L475.9,295.2 L476.2,297.9 L476.6,292.1 L476.9,288.7 L477.3,292.7 L477.6,291.1 L478.0,287.4 L478.3,293.2 L478.7,293.9 L479.0,296.4 L479.4,303.6 L479.7,292.5 L480.0,305.2 L480.4,293.6 L480.7,297.0 L481.1,292.2 L481.4,297.9 L481.7,302.0 L482.1,296.6 L482.4,301.4 L482.7,299.8 L483.0,299.1 L483.4,300.3 L483.7,300.9 L484.0,304.6 L484.3,301.5 L484.7,313.3 L485.0,302.0 L485.3,308.1 L485.6,296.5 L485.9,296.2 L486.2,314.0 L486.5,302.1 L486.9,303.8 L487.2,309.3 L487.5,301.0 L487.8,306.5 L488.1,314.9 L488.4,306.0 L488.7,305.6 L489.0,304.5 L489.3,312.6 L489.6,302.4 L489.9,302.1 L490.2,313.0 L490.5,310.2 L490.8,307.1 L491.1,310.2 L491.4,298.4 L491.7,306.3 L491.9,313.8 L492.2,312.7 L492.5,308.5 L492.8,297.0 L493.1,309.7 L493.4,308.2 L493.7,306.3 L493.9,309.6 L494.2,298.0 L494.5,313.1 L494.8,305.9 L495.1,309.4 L495.3,307.0 L495.6,318.5 L495.9,301.5 L496.2,312.0 L496.4,311.3 L496.7,317.9 L497.0,316.7 L497.2,308.8 L497.5,306.6 L497.8,308.1 L498.0,305.8 L498.3,308.7 L498.6,313.1 L498.8,308.4 L499.1,310.0 L499.4,314.5 L499.6,309.7 L499.9,306.7 L500.1,313.0 L500.4,317.1 L500.7,310.5 L500.9,304.2 L501.2,316.8 L501.4,316.2 L501.7,316.7 L501.9,308.5 L502.2,330.8 L502.4,314.0 L502.7,309.2 L502.9,322.7 L503.2,307.8 L503.4,313.6 L503.7,321.3 L503.9,316.1 L504.2,330.1 L504.4,322.1 L504.6,306.9 L504.9,325.1 L505.1,307.1 L505.4,319.3 L505.6,312.3 L505.9,318.7 L506.1,339.6 L506.3,323.8 L506.6,318.3 L506.8,329.1 L507.0,331.2 L507.3,317.6 L507.5,325.4 L507.7,335.4 L508.0,326.1 L508.2,314.9 L508.4,324.8 L508.7,314.7 L508.9,311.2 L509.1,321.3 L509.4,331.4 L509.6,333.3 L509.8,322.3 L510.0,316.0 L510.3,320.4 L510.5,318.6 L510.7,326.4 L510.9,320.7 L511.2,327.0 L511.4,325.9 L511.6,335.1 L511.8,338.4 L512.0,327.8 L512.3,333.9 L512.5,332.6 L512.7,319.2 L512.9,325.3 L513.1,305.9 L513.3,317.9 L513.6,330.4 L513.8,319.2 L514.0,322.4 L514.2,331.5 L514.4,317.3 L514.6,332.7 L514.8,362.0 L515.1,319.9 L515.3,331.7 L515.5,315.4 L515.7,332.4 L515.9,338.1 L516.1,315.4 L516.3,337.3 L516.5,325.4 L516.7,316.4 L516.9,326.4 L517.1,328.3 L517.3,326.8 L517.5,321.2 L517.7,335.7 L517.9,323.1 L518.2,323.5 L518.4,311.8 L518.6,331.6 L518.8,337.7 L519.0,322.8 L519.2,332.7 L519.4,326.6 L519.6,328.1 L519.8,320.1 L519.9,335.9 L520.1,330.5 L520.3,362.0 L520.5,338.9 L520.7,318.1 L520.9,336.9 L521.1,337.3 L521.3,343.4 L521.5,325.6 L521.7,329.2 L521.9,343.6 L522.1,325.3 L522.3,328.8 L522.5,324.8 L522.7,337.9 L522.8,317.9 L523.0,328.0 L523.2,332.9 L523.4,337.1 L523.6,334.4 L523.8,324.8 L524.0,334.9 L524.2,323.3 L524.4,327.4 L524.5,321.5 L524.7,325.7 L524.9,333.5 L525.1,357.2 L525.3,330.4" stroke="#f0f" stroke-width="1.8"/>
</g>
<rect x="310.1" y="22.2" width="197.9" height="73.2" fill="#fff" stroke="#3a3a3a" stroke-width="1.3"/>
<path d="M324.4,32.8H355" stroke="#000" stroke-width="1.6" stroke-dasharray="5.1,3.2"/>
<path d="M324,50.4H358.2" stroke="#f00" stroke-width="1.6" stroke-dasharray="5,1.7,2,1.7"/>
<path d="M324,69H358.2" stroke="#00f" stroke-width="1.6" stroke-dasharray="2.6,1"/>
<path d="M324,86.7H358" stroke="#f0f" stroke-width="1.6" stroke-dasharray="3.5,1,1.5,1"/>
<text x="362.3" y="37.70" font-family="Liberation Sans, Arial, sans-serif" font-size="14.9" stroke="#000" stroke-width="0.4">PGA-300 without AQ</text>
<text x="362.3" y="55.45" font-family="Liberation Sans, Arial, sans-serif" font-size="14.9" stroke="#000" stroke-width="0.4">PGA-384 without AQ</text>
<text x="362.3" y="73.20" font-family="Liberation Sans, Arial, sans-serif" font-size="14.9" stroke="#000" stroke-width="0.4">PGA-300 with AQ</text>
<text x="362.3" y="90.95" font-family="Liberation Sans, Arial, sans-serif" font-size="14.9" stroke="#000" stroke-width="0.4">PGA-384 with AQ</text>
<text x="85.5" y="363.4" text-anchor="middle" font-family="Liberation Sans, Arial, sans-serif" font-size="17.4" stroke="#000" stroke-width="0.4">5</text>
<text x="136.4" y="363.4" text-anchor="middle" font-family="Liberation Sans, Arial, sans-serif" font-size="17.4" stroke="#000" stroke-width="0.4">10</text>
<text x="305.4" y="363.4" text-anchor="middle" font-family="Liberation Sans, Arial, sans-serif" font-size="17.4" stroke="#000" stroke-width="0.4">100</text>
<text x="474.4" y="363.4" text-anchor="middle" font-family="Liberation Sans, Arial, sans-serif" font-size="17.4" stroke="#000" stroke-width="0.4">1000</text>
<text x="526.3" y="363.4" text-anchor="middle" font-family="Liberation Sans, Arial, sans-serif" font-size="17.4" stroke="#000" stroke-width="0.4">2000</text>
<text x="32.6" y="59.0" font-family="Liberation Sans, Arial, sans-serif" font-size="17.4" stroke="#000" stroke-width="0.4">10<tspan dy="-9" dx="0.3" font-size="10.8">-2</tspan></text>
<text x="32.6" y="155.2" font-family="Liberation Sans, Arial, sans-serif" font-size="17.4" stroke="#000" stroke-width="0.4">10<tspan dy="-9" dx="0.3" font-size="10.8">-3</tspan></text>
<text x="32.6" y="251.4" font-family="Liberation Sans, Arial, sans-serif" font-size="17.4" stroke="#000" stroke-width="0.4">10<tspan dy="-9" dx="0.3" font-size="10.8">-4</tspan></text>
<text x="32.6" y="347.6" font-family="Liberation Sans, Arial, sans-serif" font-size="17.4" stroke="#000" stroke-width="0.4">10<tspan dy="-9" dx="0.3" font-size="10.8">-5</tspan></text>
<text x="297" y="388" text-anchor="middle" font-family="Liberation Sans, Arial, sans-serif" font-size="16.8" stroke="#000" stroke-width="0.4">Time (ns)</text>
<text transform="translate(20.4,175.3) rotate(-90)" text-anchor="middle" font-family="Liberation Sans, Arial, sans-serif" font-size="18.1" stroke="#000" stroke-width="0.4">Afterpulse Probability per ns</text>
</svg></body></html>
